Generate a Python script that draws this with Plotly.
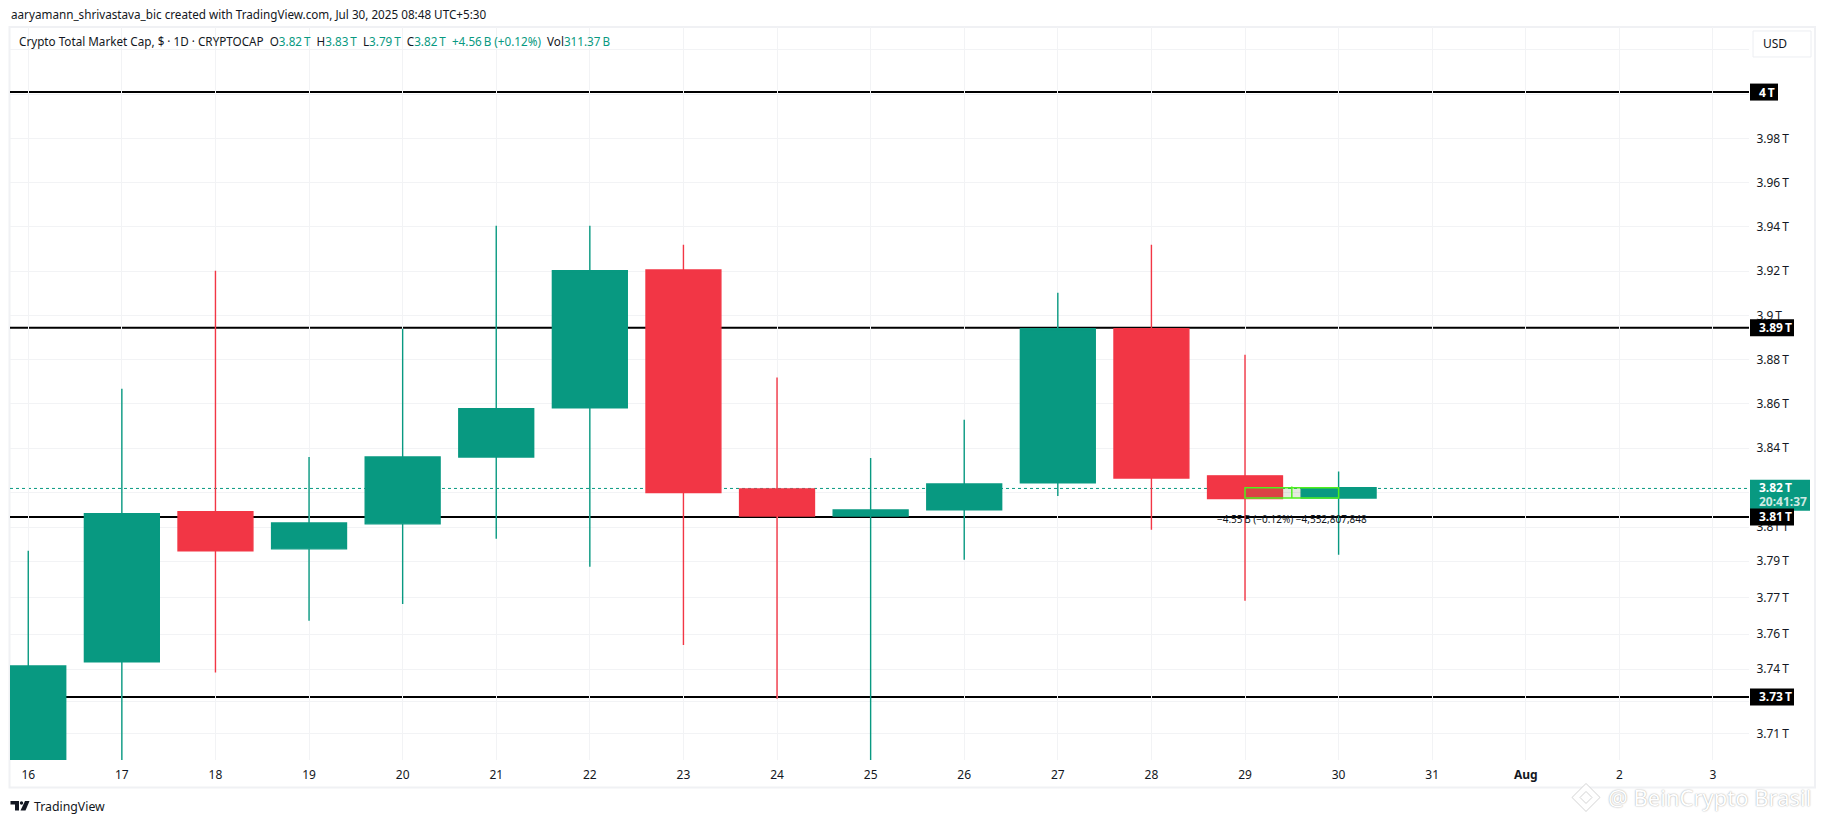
import plotly.graph_objects as go

# --- Data (values in trillions of USD) ---
dates = ["2025-07-16", "2025-07-17", "2025-07-18", "2025-07-19", "2025-07-20",
         "2025-07-21", "2025-07-22", "2025-07-23", "2025-07-24", "2025-07-25",
         "2025-07-26", "2025-07-27", "2025-07-28", "2025-07-29", "2025-07-30"]
opens = [3.680, 3.7435, 3.8113, 3.7945, 3.8058, 3.8360, 3.8582, 3.9205, 3.8216,
         3.8093, 3.8121, 3.8243, 3.8940, 3.8275, 3.8175]
highs = [3.7936, 3.8668, 3.9202, 3.8360, 3.8940, 3.9405, 3.9405, 3.9319, 3.8719,
         3.8356, 3.8528, 3.9102, 3.9319, 3.8822, 3.8294]
lows = [3.660, 3.690, 3.7386, 3.7620, 3.7696, 3.7991, 3.7864, 3.7511, 3.7268,
        3.690, 3.7896, 3.8184, 3.8031, 3.7710, 3.7918]
closes = [3.7416, 3.8104, 3.7936, 3.8062, 3.8360, 3.8578, 3.9202, 3.8199, 3.8093,
          3.8121, 3.8238, 3.8940, 3.8265, 3.8172, 3.8221]

x_tick_dates = dates + ["2025-07-31", "2025-08-01", "2025-08-02", "2025-08-03"]
x_tick_labels = ["16", "17", "18", "19", "20", "21", "22", "23", "24", "25", "26",
                 "27", "28", "29", "30", "31", "<b>Aug</b>", "2", "3"]

y_tick_vals = [4.02, 4.0, 3.98, 3.96, 3.94, 3.92, 3.90, 3.88, 3.86, 3.84, 3.82,
               3.8043, 3.789, 3.7726, 3.756, 3.7401, 3.7257, 3.7111]
y_tick_labels = ["", "4\u2009T", "3.98\u2009T", "3.96\u2009T", "3.94\u2009T", "3.92\u2009T",
                 "3.9\u2009T", "3.88\u2009T", "3.86\u2009T", "3.84\u2009T", "3.82\u2009T",
                 "3.81\u2009T", "3.79\u2009T", "3.77\u2009T", "3.76\u2009T", "3.74\u2009T",
                 "3.73\u2009T", "3.71\u2009T"]

level_vals = [4.0009, 3.8944, 3.8089, 3.7276]
level_labels = ["4\u2009T", "3.89\u2009T", "3.81\u2009T", "3.73\u2009T"]
last_price = 3.8218

UP = "#089981"
DOWN = "#f23645"
LIME = "#4ff01e"
GRID = "#f2f3f5"
TEXT = "#131722"
FONT = "Noto Sans"

# page geometry
W, H = 1825, 824
L, R, T, B = 10, 1749, 27, 760.5


def px(x):
    return (x - L) / (R - L)


def py(y):
    return (B - y) / (B - T)


def val_y(v):
    return B - (v - 3.6991) / (4.0303 - 3.6991) * (B - T)


fig = go.Figure()

fig.add_trace(go.Candlestick(
    x=dates, open=opens, high=highs, low=lows, close=closes,
    increasing=dict(line=dict(color=UP, width=1.4), fillcolor=UP),
    decreasing=dict(line=dict(color=DOWN, width=1.4), fillcolor=DOWN),
    whiskerwidth=0,
    showlegend=False,
))

shapes = []
# outer frame of the TradingView widget
shapes.append(dict(type="rect", xref="paper", yref="paper", layer="below",
                   x0=px(9.5), x1=px(1815), y0=py(788), y1=py(27),
                   line=dict(color="#f0f1f4", width=2)))
# key levels, under the candles
for v in level_vals:
    shapes.append(dict(type="line", xref="paper", x0=0, x1=1, yref="y", y0=v, y1=v,
                       layer="below", line=dict(color="black", width=2)))
shapes.append(dict(type="line", xref="paper", x0=0, x1=1, yref="y",
                   y0=last_price, y1=last_price, layer="below",
                   line=dict(color=UP, width=1, dash="dot")))

# measure tool on the last two candles
shapes.append(dict(type="rect", x0="2025-07-29", x1="2025-07-29 14:24",
                   y0=closes[14], y1=opens[14], yref="y",
                   fillcolor="rgba(100,125,70,0.17)", line=dict(width=0)))
shapes.append(dict(type="rect", x0="2025-07-29", x1="2025-07-30",
                   y0=closes[14], y1=opens[14], yref="y",
                   line=dict(color=LIME, width=1.5)))
shapes.append(dict(type="line", x0="2025-07-29 12:00", x1="2025-07-29 12:00",
                   y0=opens[14], y1=closes[14] + 0.0006, yref="y",
                   line=dict(color=LIME, width=1.5)))

# price tags on the axis
shapes.append(dict(type="rect", xref="paper", yref="paper",
                   x0=px(1750), x1=px(1810), y0=py(511), y1=py(480),
                   fillcolor=UP, line=dict(width=0)))
for v, w in zip(level_vals, [28, 44, 44, 44]):
    yc = val_y(v)
    shapes.append(dict(type="rect", xref="paper", yref="paper",
                       x0=px(1750), x1=px(1750 + w), y0=py(yc + 8.5), y1=py(yc - 8.5),
                       fillcolor="black", line=dict(width=0)))

# USD button
shapes.append(dict(type="rect", xref="paper", yref="paper",
                   x0=px(1753), x1=px(1811), y0=py(57), y1=py(31),
                   fillcolor="white", line=dict(color="#eceef2", width=1)))

# TradingView logo
shapes.append(dict(type="path", xref="paper", yref="paper", fillcolor="#131722",
                   line=dict(width=0),
                   path=f"M {px(10.5)} {py(801.5)} L {px(19)} {py(801.5)} L {px(19)} {py(811)} "
                        f"L {px(15)} {py(811)} L {px(15)} {py(805)} L {px(10.5)} {py(805)} Z"))
shapes.append(dict(type="circle", xref="paper", yref="paper", fillcolor="#131722",
                   line=dict(width=0), x0=px(19.8), x1=px(23.2), y0=py(805.2), y1=py(801.8)))
shapes.append(dict(type="path", xref="paper", yref="paper", fillcolor="#131722",
                   line=dict(width=0),
                   path=f"M {px(25)} {py(801.5)} L {px(29.5)} {py(801.5)} L {px(25.5)} {py(811)} "
                        f"L {px(20.5)} {py(811)} Z"))

# watermark mark
shapes.append(dict(type="path", xref="paper", yref="paper", fillcolor="white",
                   line=dict(color="#d4d4d4", width=1),
                   path=f"M {px(1586)} {py(784)} L {px(1600)} {py(798)} L {px(1586)} {py(812)} "
                        f"L {px(1572)} {py(798)} Z"))
shapes.append(dict(type="path", xref="paper", yref="paper", fillcolor="white",
                   line=dict(color="#d4d4d4", width=1),
                   path=f"M {px(1586)} {py(792)} L {px(1592)} {py(798)} L {px(1586)} {py(804)} "
                        f"L {px(1580)} {py(798)} Z"))


def note(x, y, text, size=12, color=TEXT, anchor="left", **kw):
    return dict(xref="paper", yref="paper", x=px(x), y=py(y), text=text, showarrow=False,
                xanchor=anchor, yanchor="middle", align="left", borderpad=0,
                font=dict(family=FONT, size=size, color=color, **kw))


def g(s):
    return f'<span style="color:{UP}">{s}</span>'


legend_text = ("Crypto Total Market Cap, $ · 1D · CRYPTOCAP &nbsp;O" + g("3.82\u2009T")
               + " &nbsp;H" + g("3.83\u2009T") + " &nbsp;L" + g("3.79\u2009T")
               + " &nbsp;C" + g("3.82\u2009T") + " &nbsp;" + g("+4.56\u2009B (+0.12%)")
               + " &nbsp;Vol" + g("311.37\u2009B"))

annotations = [
    note(10, 14, "aaryamann_shrivastava_bic created with TradingView.com, Jul 30, 2025 08:48 UTC+5:30", size=11.7),
    note(18, 41, legend_text, size=11.7),
    note(1762, 44, "USD", size=12),
    note(1758, 488, "<b>3.82\u2009T</b>", size=12, color="white"),
    note(1758, 502, "<b>20:41:37</b>", size=12, color="#cfe9e3"),
    note(33, 807, "TradingView", size=12.3),
    note(1607, 798, "@ BeinCrypto Brasil", size=22, color="white", shadow="0 0 1.5px #8f8f8f"),
]
for v, label in zip(level_vals, level_labels):
    annotations.append(note(1758, val_y(v), f"<b>{label}</b>", size=12, color="white"))
annotations.append(dict(x="2025-07-29 12:00", y=3.8078, yref="y", showarrow=False,
                        text="\u22124.55\u2009B (\u22120.12%) \u22124,552,807,848",
                        font=dict(family=FONT, size=10, color="#131722")))

fig.update_layout(
    width=W, height=H,
    margin=dict(l=L, r=W - R, t=T, b=H - B, pad=0),
    paper_bgcolor="white", plot_bgcolor="white",
    font=dict(family=FONT, size=12, color=TEXT),
    boxgap=0.2,
    boxgroupgap=0,
    showlegend=False,
    shapes=shapes,
    annotations=annotations,
    xaxis=dict(
        type="date", range=["2025-07-15 19:19", "2025-08-03 09:14"],
        rangeslider=dict(visible=False),
        tickmode="array", tickvals=x_tick_dates, ticktext=x_tick_labels,
        showgrid=True, gridcolor=GRID, gridwidth=1, zeroline=False,
        ticks="outside", ticklen=4, tickcolor="white", showline=False,
        tickfont=dict(family=FONT, size=12, color=TEXT),
    ),
    yaxis=dict(
        side="right", range=[3.6991, 4.0303],
        tickmode="array", tickvals=y_tick_vals, ticktext=y_tick_labels,
        showgrid=True, gridcolor=GRID, gridwidth=1, zeroline=False,
        ticks="outside", ticklen=4, tickcolor="white", showline=False,
        tickfont=dict(family=FONT, size=12, color=TEXT),
    ),
)

fig.write_html("out.html", config={"displayModeBar": False},
               post_script="document.body.style.margin='0';")
